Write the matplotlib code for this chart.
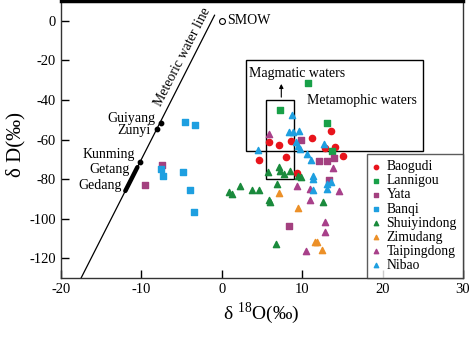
import matplotlib
matplotlib.use("Agg")
from matplotlib import pyplot as plt
from matplotlib.patches import Rectangle
import numpy as np

plt.rcParams['font.family'] = ['Liberation Serif', 'DejaVu Serif']
plt.rcParams['mathtext.fontset'] = 'custom'
plt.rcParams['mathtext.rm'] = 'Liberation Serif'
plt.rcParams['axes.unicode_minus'] = False

# samples: delta 18O and delta D (per mil)
baogudi_x = [5.87, 7.11, 8.61, 11.22, 13.58, 12.84, 14.08, 15.07, 4.63, 7.99, 9.35]
baogudi_y = [-61.5, -63.0, -60.8, -59.0, -55.7, -64.3, -63.8, -68.1, -70.6, -68.8, -76.7]
lannigou_x = [10.68, 7.28, 13.05, 13.67]
lannigou_y = [-31.4, -45.2, -51.5, -65.8]
yata_x = [9.79, 12.09, 13.08, 13.92, 13.33, 8.40, -9.59, -7.40]
yata_y = [-60.0, -70.9, -70.9, -69.6, -80.4, -103.7, -83.2, -73.0]
banqi_x = [-4.58, -3.30, -7.60, -7.29, -4.86, -3.96, -3.40]
banqi_y = [-51.3, -52.6, -74.7, -78.3, -76.6, -85.5, -96.7]
shuiyindong_x = [0.93, 1.27, 2.26, 3.72, 4.63, 5.75, 7.11, 7.18, 7.74, 8.48, 9.48, 9.79,
                 6.90, 5.91, 6.00, 12.55, 6.70]
shuiyindong_y = [-86.6, -87.4, -83.7, -85.7, -85.5, -76.4, -73.8, -75.9, -77.2, -76.0, -78.7, -78.9,
                 -82.7, -90.5, -91.5, -91.5, -113.0]
zimudang_x = [7.15, 9.42, 11.90, 11.65, 12.52]
zimudang_y = [-86.9, -94.7, -111.7, -112.0, -115.6]
taipingdong_x = [5.91, 13.87, 9.32, 11.03, 10.93, 14.54, 12.84, 12.87, 10.53]
taipingdong_y = [-57.1, -74.3, -83.7, -85.2, -90.6, -86.2, -101.9, -106.8, -116.6]
nibao_x = [8.73, 8.42, 8.86, 9.54, 9.17, 9.51, 9.73, 10.56, 11.09, 12.75, 4.56,
           11.34, 11.38, 11.34, 13.05, 13.64, 13.05]
nibao_y = [-47.4, -56.3, -56.3, -55.5, -61.4, -63.1, -64.6, -67.2, -70.5, -62.1, -65.3,
           -78.2, -80.2, -85.6, -82.7, -81.4, -85.0]

# meteoric water stations
station_names = ["Guiyang", "Zunyi", "Kunming"]
station_x = [-7.6, -8.1, -10.2]
station_y = [-51.5, -54.5, -71.5]
getang_gedang_x = [-10.5, -12.0]
getang_gedang_y = [-74.0, -86.0]

# fields: (x0, y0, x1, y1)
metamorphic_box = [3.0, -66.0, 25.0, -20.0]
magmatic_box = [5.5, -80.0, 9.0, -40.0]

fig = plt.figure(figsize=(4.74, 3.39), dpi=100)
ax = fig.add_axes([61/474, 1-278/339, 402/474, 277/339])
ax.set_xlim(-20, 30)
ax.set_ylim(-130, 10)

# meteoric water line dD = 8 d18O + 10
mx = np.array([-17.7, -0.9])
ax.plot(mx, 8*mx + 10, color='black', lw=0.9, zorder=2)
ax.text(-4.9, -18.5, "Meteoric water line", rotation=63, ha='center', va='center', fontsize=10)
ax.plot(getang_gedang_x, getang_gedang_y, color='black', lw=3.2, solid_capstyle='round', zorder=3)
ax.scatter(station_x, station_y, s=10, color='black', zorder=4)
ax.text(-8.3, -49.5, "Guiyang", ha='right', va='center', fontsize=10)
ax.text(-8.9, -55.5, "Zunyi", ha='right', va='center', fontsize=10)
ax.text(-10.8, -67.5, "Kunming", ha='right', va='center', fontsize=10)
ax.text(-11.5, -75, "Getang", ha='right', va='center', fontsize=10)
ax.text(-12.5, -83.5, "Gedang", ha='right', va='center', fontsize=10)

ax.scatter([0], [0], s=18, facecolor='white', edgecolor='black', lw=0.8, zorder=4)
ax.text(0.7, 0, "SMOW", ha='left', va='center', fontsize=10)

for b in [metamorphic_box, magmatic_box]:
    ax.add_patch(Rectangle((b[0], b[1]), b[2]-b[0], b[3]-b[1], fill=False, edgecolor='black', lw=1.0, zorder=1))
ax.annotate("", xy=(7.4, -30.5), xytext=(7.4, -40), arrowprops=dict(arrowstyle='-|>', color='black', lw=0.8, mutation_scale=6))
ax.text(3.4, -26.5, "Magmatic waters", ha='left', va='center', fontsize=10)
ax.text(10.6, -40.5, "Metamophic waters", ha='left', va='center', fontsize=10)

ms = 16
ax.scatter(baogudi_x, baogudi_y, s=ms+4, marker='o', color='#e8141c', label='Baogudi', zorder=5)
ax.scatter(lannigou_x, lannigou_y, s=ms, marker='s', color='#18a048', label='Lannigou', zorder=5)
ax.scatter(yata_x, yata_y, s=ms, marker='s', color='#a3407f', label='Yata', zorder=5)
ax.scatter(banqi_x, banqi_y, s=ms, marker='s', color='#1e9fe0', label='Banqi', zorder=5)
ax.scatter(shuiyindong_x, shuiyindong_y, s=ms+4, marker='^', color='#1a8a3c', label='Shuiyindong', zorder=5)
ax.scatter(zimudang_x, zimudang_y, s=ms+4, marker='^', color='#ec9028', label='Zimudang', zorder=5)
ax.scatter(taipingdong_x, taipingdong_y, s=ms+4, marker='^', color='#a8408a', label='Taipingdong', zorder=5)
ax.scatter(nibao_x, nibao_y, s=ms+4, marker='^', color='#1e9fe0', label='Nibao', zorder=5)

leg = ax.legend(loc='lower right', bbox_to_anchor=(1, 0), borderaxespad=0, fontsize=9.8,
                frameon=True, fancybox=False, edgecolor='#333333', handlelength=0.5,
                handletextpad=0.5, labelspacing=0.08, borderpad=0.45, markerscale=0.7)
leg.get_frame().set_linewidth(1.0)

ax.set_xticks([-20, -10, 0, 10, 20, 30])
ax.set_yticks([0, -20, -40, -60, -80, -100, -120])
ax.tick_params(direction='in', length=6, labelsize=10.5, width=1.0)
for s in ['left', 'bottom', 'right']:
    ax.spines[s].set_color('#333333')
    ax.spines[s].set_linewidth(1.0)
ax.spines['top'].set_linewidth(2.5)

fig.text(261/474, 1-313/339, "δ $^{18}$O(‰)", ha='center', va='center', fontsize=14)
fig.text(16/474, 1-145/339, "δ D(‰)", ha='center', va='center', rotation=90, fontsize=15)

fig.savefig("out.png", dpi=100)
